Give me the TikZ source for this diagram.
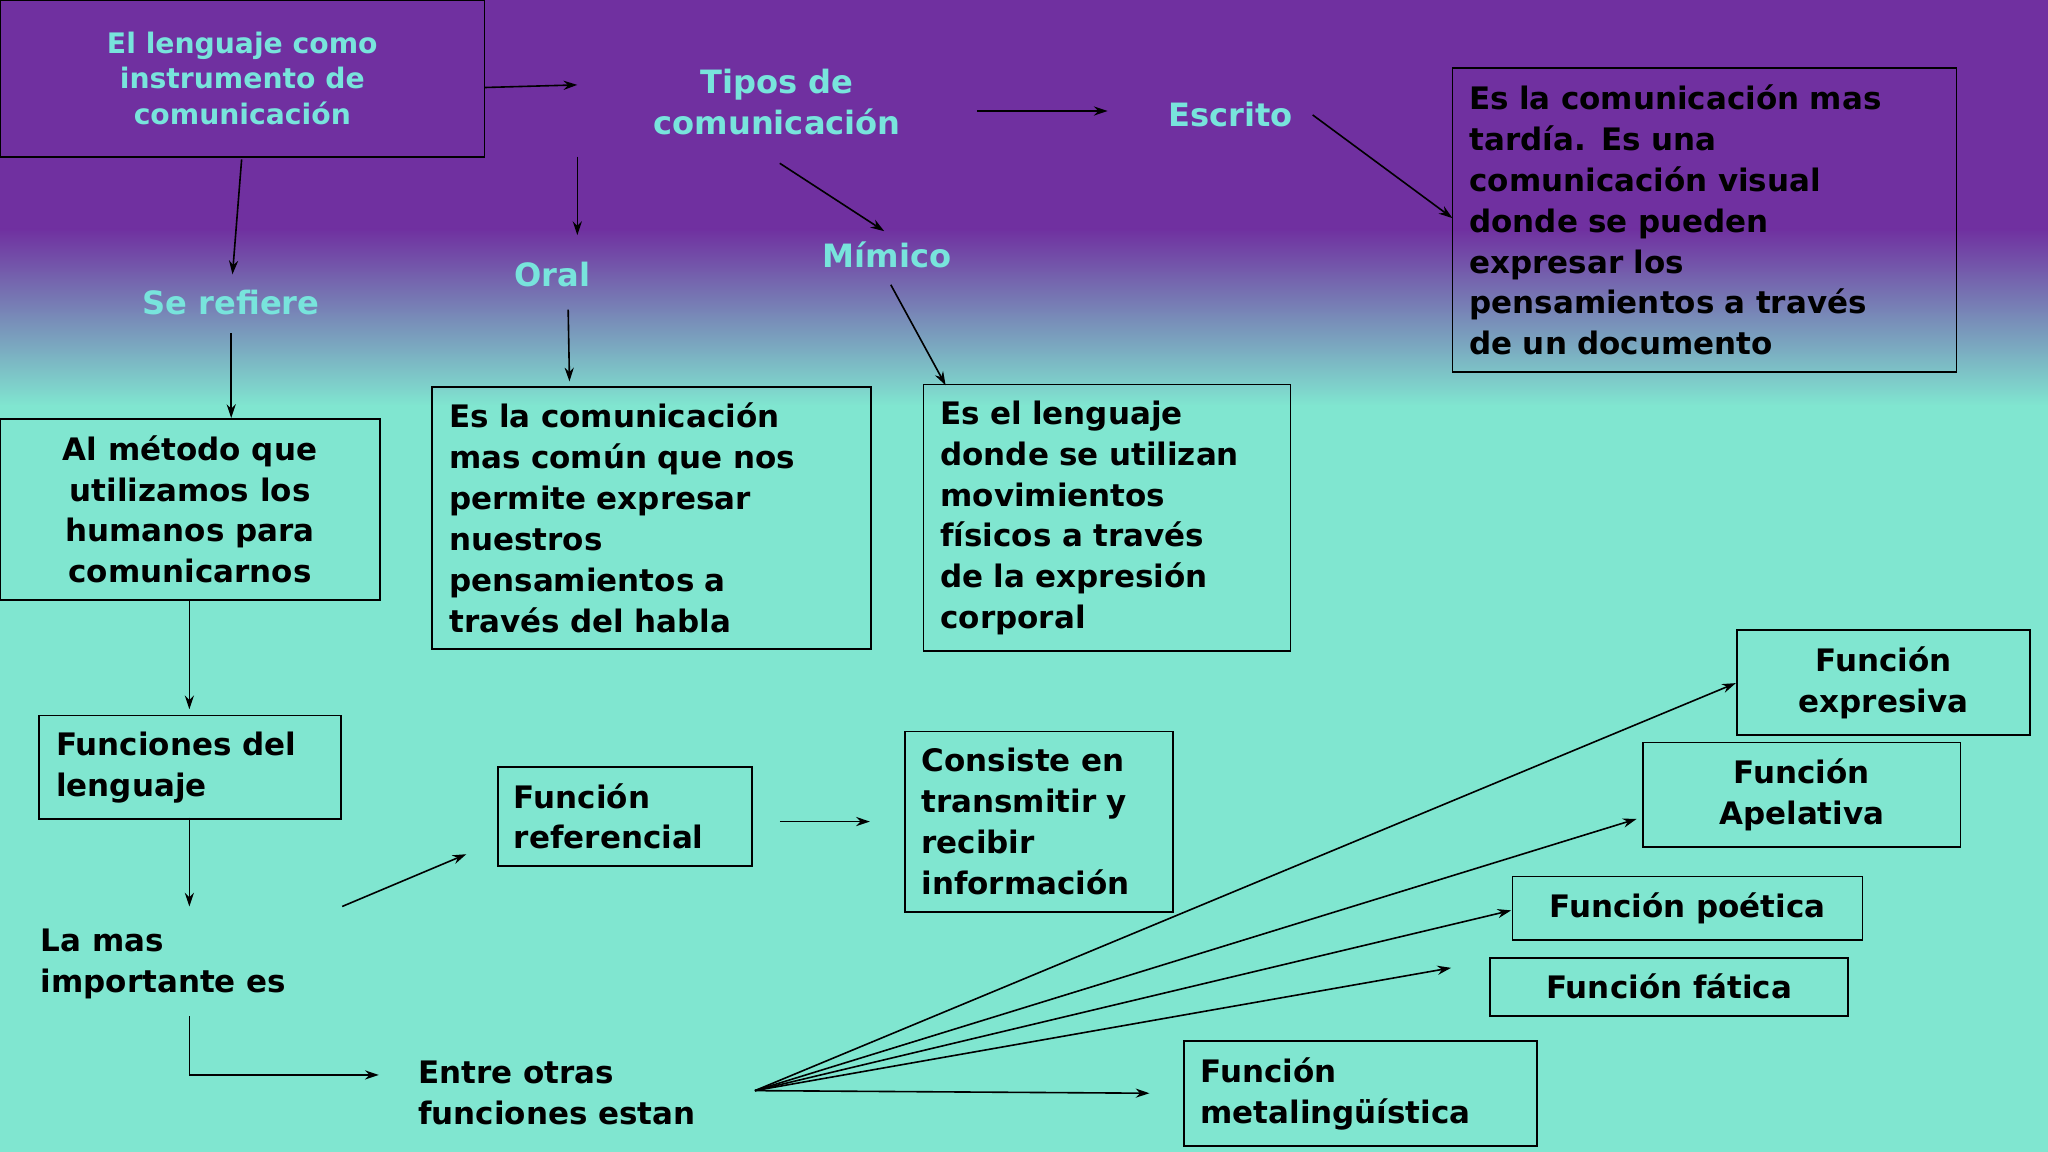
\documentclass[tikz,border=0pt]{standalone}
\usepackage{fontspec}
\setmainfont{DejaVu Sans}
\usetikzlibrary{arrows.meta}
\definecolor{purp}{RGB}{112,48,160}
\definecolor{turq}{RGB}{128,230,208}
\definecolor{cyanlab}{RGB}{120,228,220}
\tikzset{
 bx/.style={draw=black,line width=0.8pt,inner sep=0.25cm,font=\bfseries\fontsize{13.5}{17.8}\selectfont},
 lab/.style={font=\bfseries\fontsize{14}{17.6}\selectfont,text=cyanlab,align=center},
 plain/.style={font=\bfseries\fontsize{13.5}{17.8}\selectfont,align=left}
}
\tikzset{arr/.style={-{Stealth[length=6pt,width=4pt]},line width=0.7pt}}
\begin{document}
\begin{tikzpicture}[x=0.02cm,y=-0.02cm]
\useasboundingbox (0,0) rectangle (1568,882);
\fill[purp] (0,0) rectangle (1568,176);
\shade[top color=purp,bottom color=turq] (0,175) rectangle (1568,311);
\fill[turq] (0,310) rectangle (1568,882);
% nodes
\node[bx,minimum width=7.42cm,minimum height=2.4cm,align=center,text=cyanlab,font=\bfseries\fontsize{12.3}{15.4}\selectfont] (b1) at (185.5,60) {El lenguaje como\\instrumento de\\comunicación};
\node[lab] (tipos) at (595,78) {Tipos de\\comunicación};
\node[lab] (escrito) at (942,88) {Escrito};
\node[bx,minimum width=7.72cm,minimum height=4.66cm,text width=7.2cm,align=left] (ebox) at (1305,168.5) {Es la comunicación mas\\tardía. Es una\\comunicación visual\\donde se pueden\\expresar los\\pensamientos a través\\de un documento};
\node[lab] (sref) at (177,232) {Se refiere};
\node[lab] (oral) at (423,210) {Oral};
\node[lab] (mim) at (679,195) {Mímico};
\node[bx,minimum width=5.82cm,minimum height=2.76cm,align=center] (met) at (145.5,390) {Al método que\\utilizamos los\\humanos para\\comunicarnos};
\node[bx,minimum width=6.72cm,minimum height=4.02cm,text width=6.2cm,align=left] (obox) at (499,396.5) {Es la comunicación\\mas común que nos\\permite expresar\\nuestros\\pensamientos a\\través del habla};
\node[bx,minimum width=5.62cm,minimum height=4.02cm,text width=5.1cm,align=left] (mbox) at (847.5,396.5) {Es el lenguaje\\donde se utilizan\\movimientos\\físicos a través\\de la expresión\\corporal};
\node[bx,minimum width=4.62cm,minimum height=1.5cm,text width=4.1cm,align=left] (fun) at (145.5,587.5) {Funciones del\\lenguaje};
\node[plain,anchor=west] (lamas) at (25,738) {La mas\\importante es};
\node[bx,minimum width=3.86cm,minimum height=1.48cm,text width=3.4cm,align=left] (ref) at (478.5,625) {Función\\referencial};
\node[bx,minimum width=4.06cm,minimum height=2.76cm,text width=3.6cm,align=left] (cons) at (795.5,629) {Consiste en\\transmitir y\\recibir\\información};
\node[plain,anchor=west] (entre) at (314,837) {Entre otras\\funciones estan};
\node[bx,minimum width=4.48cm,minimum height=1.5cm,align=center] (expr) at (1442,522.5) {Función\\expresiva};
\node[bx,minimum width=4.86cm,minimum height=1.5cm,align=center] (apel) at (1379.5,608.5) {Función\\Apelativa};
\node[bx,minimum width=5.36cm,minimum height=0.86cm,align=center] (poe) at (1292,695.5) {Función poética};
\node[bx,minimum width=5.48cm,minimum height=0.86cm,align=center] (fat) at (1278,755.5) {Función fática};
\node[bx,minimum width=5.38cm,minimum height=1.5cm,text width=4.9cm,align=left] (metal) at (1041.5,837.5) {Función\\metalingüística};
% coordinates
\coordinate (a1) at (442,65);
\coordinate (a2s) at (748,85); \coordinate (a2e) at (848,85);
\coordinate (a3s) at (1005,88);
\coordinate (a4s) at (185,122); \coordinate (a4e) at (178,210);
\coordinate (a5s) at (442,120); \coordinate (a5e) at (442,180);
\coordinate (a6s) at (597,125); \coordinate (a6e) at (677,177);
\coordinate (a7s) at (177,255);
\coordinate (a8s) at (435,237); \coordinate (a8e) at (436,292);
\coordinate (a9s) at (682,218); \coordinate (a9e) at (724,295);
\coordinate (a10e) at (145,543);
\coordinate (a11e) at (145,694);
\coordinate (a12s) at (262,694); \coordinate (a12e) at (357,654);
\coordinate (a13s) at (597,629); \coordinate (a13e) at (666,629);
\coordinate (a14s) at (145,778); \coordinate (a14e) at (290,823);
\coordinate (h) at (578,835);
\coordinate (e1) at (1329,523); \coordinate (e2) at (1253,627);
\coordinate (e3) at (1157,697); \coordinate (e4) at (1111,741); \coordinate (e5) at (880,837);
% arrows
\draw[arr] (371,67) -- (a1);
\draw[arr] (a2s) -- (a2e);
\draw[arr] (a3s) -- (1112,167);
\draw[arr] (a4s) -- (a4e);
\draw[arr] (a5s) -- (a5e);
\draw[arr] (a6s) -- (a6e);
\draw[arr] (a7s) -- (177,320);
\draw[arr] (a8s) -- (a8e);
\draw[arr] (a9s) -- (a9e);
\draw[arr] (145,460) -- (a10e);
\draw[arr] (145,626) -- (a11e);
\draw[arr] (a12s) -- (a12e);
\draw[arr] (a13s) -- (a13e);
\draw[arr] (a14s) |- (a14e);
\foreach \e in {e1,e2,e3,e4,e5} \draw[arr] (h) -- (\e);
\end{tikzpicture}
\end{document}
